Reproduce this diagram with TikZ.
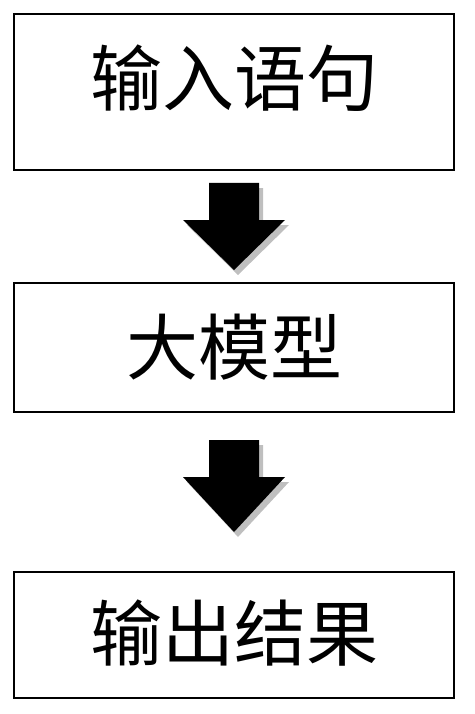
\documentclass[tikz,border=0pt]{standalone}
\usepackage{fontspec}
\newfontfamily\cjk{Noto Sans CJK SC}
\usetikzlibrary{positioning}

\begin{document}
\begin{tikzpicture}[x=1pt,y=-1pt]
\tikzset{box/.style={draw,line width=1.6pt,minimum width=440pt,inner sep=0pt},
  word/.style={font=\cjk\fontsize{72}{80}\selectfont,inner sep=0pt}}
\useasboundingbox (0,0) rectangle (474,714);
\node[box,minimum height=156pt] (input) at (234,92) {};
\node[box,minimum height=129pt] (model) at (234,347.5) {};
\node[box,minimum height=126pt] (output) at (234,635) {};
\node[word] (inputtext) at (234,78) {输入语句};
\node[word] (modeltext) at (234,347) {大模型};
\node[word] (outputtext) at (234,633) {输出结果};
% block arrows with shadow
\foreach \t/\m/\b in {183/220/270, 440/477/532} {
  \fill[black!25] (213,{\t+5}) -- (263,{\t+5}) -- (263,{\m+5}) -- (289,{\m+5}) -- (238,{\b+5}) -- (187,{\m+5}) -- (213,{\m+5}) -- cycle;
  \fill[black] (209,\t) -- (259,\t) -- (259,\m) -- (285,\m) -- (234,\b) -- (183,\m) -- (209,\m) -- cycle;
}
\end{tikzpicture}
\end{document}
